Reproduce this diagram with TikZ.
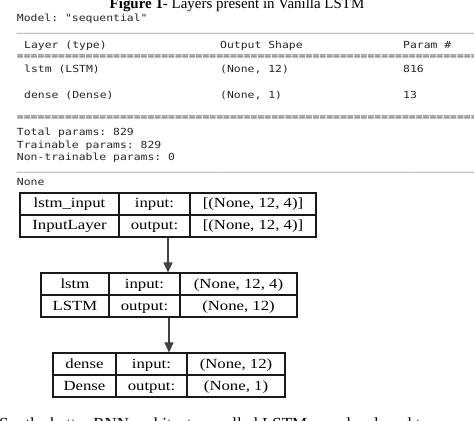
\documentclass[tikz,border=0pt]{standalone}
\usepackage{fontspec}
\setmainfont{Liberation Serif}
\setmonofont[FakeStretch=1.17]{DejaVu Sans Mono}
\newfontfamily\dotfont[FakeStretch=1.2]{Liberation Serif}
\usetikzlibrary{arrows.meta, positioning, calc}

\tikzset{
  summary/.style={anchor=base west, inner sep=0pt, text=black!85, font=\ttfamily\fontsize{9.8}{11}\selectfont},
  rule/.style={anchor=west, inner sep=0pt, text=black!80, font=\ttfamily\fontsize{9.8}{11}\selectfont},
  layerbox/.style={draw=black!90, line width=1.2bp, inner sep=0pt, minimum height=44bp},
  divider/.style={draw=black!90, line width=1.2bp},
  cell/.style={anchor=base, inner sep=0pt, font=\dotfont\fontsize{14}{16}\selectfont},
  link/.style={draw=black!75, line width=1.3bp, -{Triangle[length=10bp,width=9bp]}},
}

\begin{document}
\begin{tikzpicture}[x=1bp, y=-1bp]
  \useasboundingbox (0,0) rectangle (474,420);
  \clip (0,0) rectangle (474,420);

  % caption on top
  \node[anchor=base, inner sep=0pt, font=\fontsize{15}{17}\selectfont] (title) at (237,8.5)
    {\textbf{Figure 1}- Layers present in Vanilla LSTM};

  % model.summary() print-out
  \node[summary] (model) at (16.7,21.7) {Model: "sequential"};
  \node[rule] (rulea) at (16.7,33) {\_\_\_\_\_\_\_\_\_\_\_\_\_\_\_\_\_\_\_\_\_\_\_\_\_\_\_\_\_\_\_\_\_\_\_\_\_\_\_\_\_\_\_\_\_\_\_\_\_\_\_\_\_\_\_\_\_\_\_\_\_\_\_\_\_\_\_\_};
  \node[summary] (hlayer) at (24,48) {Layer (type)};
  \node[summary] (hshape) at (220,48) {Output Shape};
  \node[summary] (hparam) at (403,48) {Param \#};
  \node[rule] (ruleb) at (16.7,57.3) {====================================================================};
  \node[summary] (lstmrow) at (24,72.7) {lstm (LSTM)};
  \node[summary] (lstmshape) at (220,72.7) {(None, 12)};
  \node[summary] (lstmparam) at (403,72.7) {816};
  \node[summary] (denserow) at (24,98.3) {dense (Dense)};
  \node[summary] (denseshape) at (220,98.3) {(None, 1)};
  \node[summary] (denseparam) at (403,98.3) {13};
  \node[rule] (rulec) at (16.7,118.3) {====================================================================};
  \node[summary] (total) at (16.7,135.7) {Total params: 829};
  \node[summary] (trainable) at (16.7,148.3) {Trainable params: 829};
  \node[summary] (nontrainable) at (16.7,160.3) {Non-trainable params: 0};
  \node[rule] (ruled) at (16.7,171.5) {\_\_\_\_\_\_\_\_\_\_\_\_\_\_\_\_\_\_\_\_\_\_\_\_\_\_\_\_\_\_\_\_\_\_\_\_\_\_\_\_\_\_\_\_\_\_\_\_\_\_\_\_\_\_\_\_\_\_\_\_\_\_\_\_\_\_\_\_};
  \node[summary] (none) at (16.7,185.7) {None};

  % plot_model boxes
  \node[layerbox, minimum width=296bp] (inputbox) at (168,215) {};
  \draw[divider] (20,215) -- (316,215);
  \draw[divider] (119,193) -- (119,237);
  \draw[divider] (190,193) -- (190,237);
  \node[cell] (inputname) at (69.5,207.5) {lstm\_input};
  \node[cell] (inputtype) at (69.5,229.5) {InputLayer};
  \node[cell] (inputin) at (154.5,207.5) {input:};
  \node[cell] (inputout) at (154.5,229.5) {output:};
  \node[cell] (inputinshape) at (253,207.5) {[(None, 12, 4)]};
  \node[cell] (inputoutshape) at (253,229.5) {[(None, 12, 4)]};

  \node[layerbox, minimum width=256bp] (lstmbox) at (169,295) {};
  \draw[divider] (41,295) -- (297,295);
  \draw[divider] (109,273) -- (109,317);
  \draw[divider] (180,273) -- (180,317);
  \node[cell] (lstmname) at (75,288) {lstm};
  \node[cell] (lstmtype) at (75,310) {LSTM};
  \node[cell] (lstmin) at (144.5,288) {input:};
  \node[cell] (lstmout) at (144.5,310) {output:};
  \node[cell] (lstminshape) at (238.5,288) {(None, 12, 4)};
  \node[cell] (lstmoutshape) at (238.5,310) {(None, 12)};

  \node[layerbox, minimum width=232bp] (densebox) at (169,375) {};
  \draw[divider] (53,375) -- (285,375);
  \draw[divider] (116,353) -- (116,397);
  \draw[divider] (187,353) -- (187,397);
  \node[cell] (densename) at (84.5,368) {dense};
  \node[cell] (densetype) at (84.5,390) {Dense};
  \node[cell] (densein) at (151.5,368) {input:};
  \node[cell] (denseout) at (151.5,390) {output:};
  \node[cell] (denseinshape) at (236,368) {(None, 12)};
  \node[cell] (denseoutshape) at (236,390) {(None, 1)};

  \draw[link] (inputbox.south) -- (inputbox.south |- lstmbox.north);
  \draw[link] (lstmbox.south) -- (densebox.north);

  % running text, cut by the page edge
  \node[anchor=base west, inner sep=0pt, font=\fontsize{17}{19}\selectfont] (bodytext) at (-1,429)
    {So, the better RNN architecture called LSTM was developed to};
\end{tikzpicture}
\end{document}
